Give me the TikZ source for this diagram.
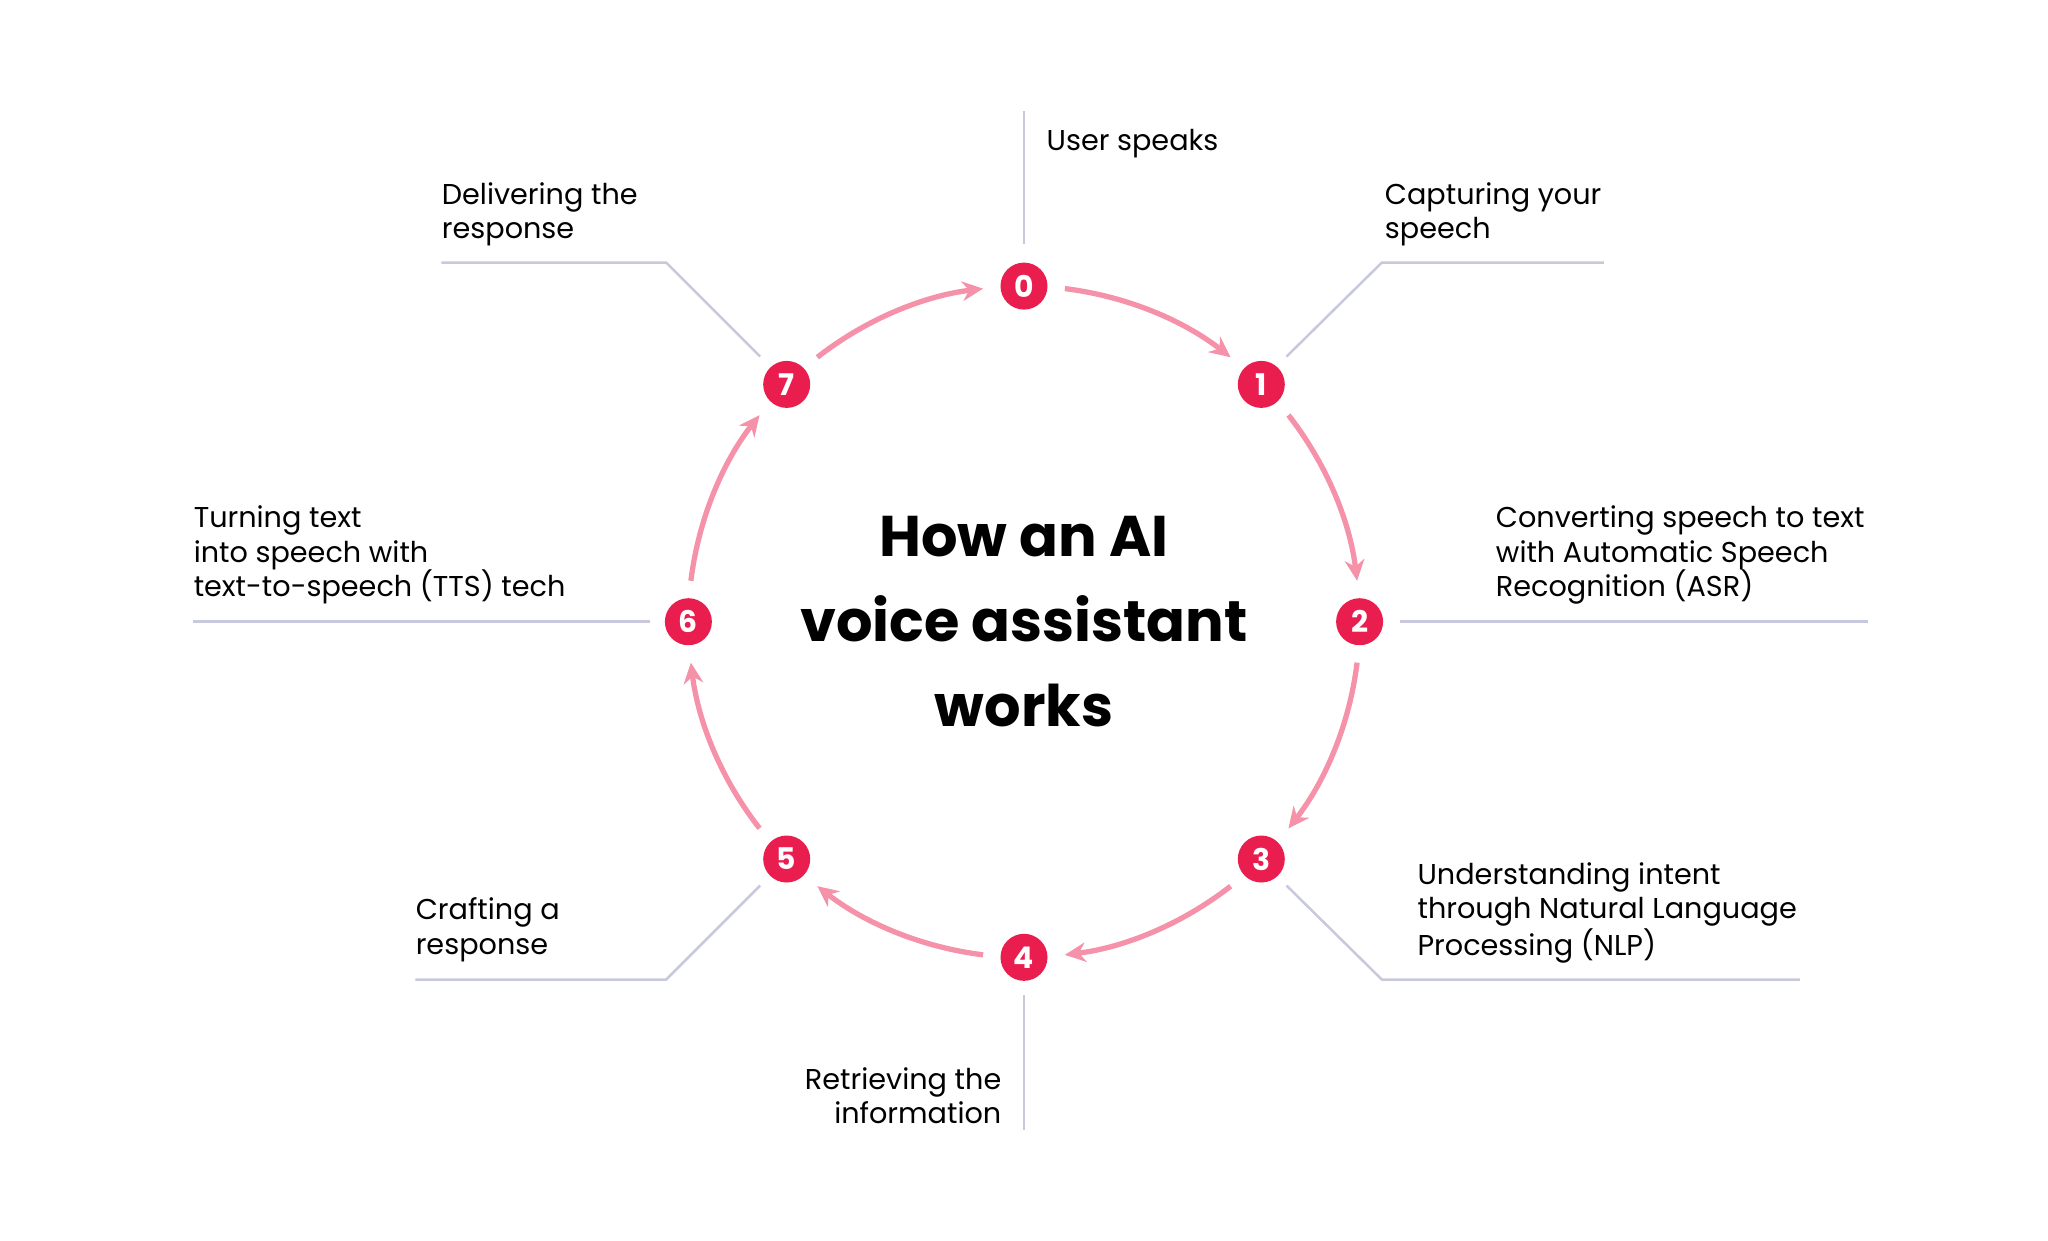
\documentclass[tikz,border=0pt]{standalone}
\usepackage{fontspec}
\setmainfont{Poppins}
\usetikzlibrary{arrows.meta}
\definecolor{stepred}{HTML}{E91E4F}
\definecolor{arrowpink}{HTML}{F592AA}
\definecolor{leadgray}{HTML}{C9C9DD}
\tikzset{
  stage/.style={circle,fill=stepred,text=white,minimum size=0.72cm,inner sep=0pt,font=\bfseries\fontsize{13}{13}\selectfont},
  flow/.style={arrowpink,line width=2.3pt,-{Stealth[length=3.2mm,width=3mm]}},
  lead/.style={leadgray,line width=1.1pt},
  lbl/.style={font=\fontsize{12.5}{15}\selectfont,align=left,anchor=west,inner sep=0pt}
}
\begin{document}
\begin{tikzpicture}[x=0.02cm,y=0.02cm]
  \useasboundingbox (-784,-474) rectangle (784,476);
  % stages around the ring
  \foreach \i in {0,...,7} {
    \node[stage] (n\i) at ({90-45*\i}:5.14cm) {\i};
  }
  \foreach \i in {0,...,7} {
    \draw[flow] ({90-45*\i-7}:5.14cm) arc ({90-45*\i-7}:{90-45*(\i+1)+7}:5.14cm);
  }
  \node[font=\bfseries\fontsize{25}{37}\selectfont,align=center] (title) at (0,0) {How an AI\\voice assistant\\works};
  % leader lines
  \coordinate (a0) at (0,391);
  \coordinate (b0) at (0,289);
  \draw[lead] (a0) -- (b0);
  \coordinate (a1) at (201,203); \coordinate (b1) at (274,275); \coordinate (c1) at (444,275);
  \draw[lead] (a1) -- (b1) -- (c1);
  \coordinate (a2) at (288,0); \coordinate (c2) at (646,0);
  \draw[lead] (a2) -- (c2);
  \coordinate (a3) at (201,-202); \coordinate (b3) at (274,-274); \coordinate (c3) at (594,-274);
  \draw[lead] (a3) -- (b3) -- (c3);
  \coordinate (a4) at (0,-286); \coordinate (b4) at (0,-389);
  \draw[lead] (a4) -- (b4);
  \coordinate (a5) at (-202,-202); \coordinate (b5) at (-274,-274); \coordinate (c5) at (-466,-274);
  \draw[lead] (a5) -- (b5) -- (c5);
  \coordinate (a6) at (-286,0); \coordinate (c6) at (-636,0);
  \draw[lead] (a6) -- (c6);
  \coordinate (a7) at (-202,203); \coordinate (b7) at (-274,275); \coordinate (c7) at (-446,275);
  \draw[lead] (a7) -- (b7) -- (c7);
  % labels
  \node[lbl] (l0) at (17,366) {User speaks};
  \node[lbl] (l1) at (276,312) {Capturing your\\speech};
  \node[lbl] (l2) at (361,51) {Converting speech to text\\with Automatic Speech\\Recognition (ASR)};
  \node[lbl] (l3) at (301,-223) {Understanding intent\\through Natural Language\\Processing (NLP)};
  \node[lbl,anchor=east,align=right] (l4) at (-17,-363) {Retrieving the\\information};
  \node[lbl] (l5) at (-466,-236) {Crafting a\\response};
  \node[lbl] (l6) at (-636,51) {Turning text\\into speech with\\text-to-speech (TTS) tech};
  \node[lbl] (l7) at (-446,312) {Delivering the\\response};
\end{tikzpicture}
\end{document}
